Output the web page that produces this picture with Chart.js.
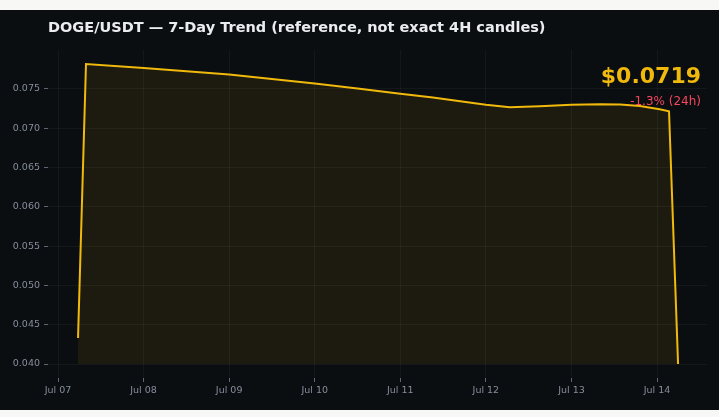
<!DOCTYPE html>
<html>
<head>
<meta charset="utf-8">
<script src="https://cdn.jsdelivr.net/npm/chart.js@4.4.1/dist/chart.umd.min.js"></script>
<style>
  html, body { margin: 0; padding: 0; background: #f7f7f5; }
  #wrap { position: absolute; left: 0; top: 10px; width: 719px; height: 400px; background: #0b0e11; }
  #chart { position: absolute; left: 0; top: 0; }
  .txt { position: absolute; font-family: 'DejaVu Sans', sans-serif; white-space: nowrap; line-height: 1; }
  #title { left: 48px; top: 10px; font-size: 14.5px; font-weight: bold; color: #eaecef; }
  #price { right: 18px; top: 55px; font-size: 22px; font-weight: bold; color: #f0b90b; }
  #change { right: 18px; top: 85px; font-size: 12px; color: #f6465d; }
</style>
</head>
<body>
<div id="wrap">
  <canvas id="chart" width="719" height="400"></canvas>
  <div class="txt" id="title">DOGE/USDT — 7-Day Trend (reference, not exact 4H candles)</div>
  <div class="txt" id="price">$0.0719</div>
  <div class="txt" id="change">-1.3% (24h)</div>
</div>
<script>
// days since Jul 07 00:00
const dayOffsets = [0.234, 0.327, 1.0, 1.5, 2.0, 2.5, 3.0, 3.5, 4.0, 4.38, 4.7, 5.0, 5.28, 5.63, 6.0, 6.33, 6.57, 6.8, 7.03, 7.14, 7.246];
const prices     = [0.04331, 0.07818, 0.07767, 0.07727, 0.07683, 0.07627, 0.07570, 0.07506, 0.07440, 0.07392, 0.07344,
                    0.07299, 0.07267, 0.07280, 0.07300, 0.07307, 0.07302, 0.07284, 0.07242, 0.07216, 0.04000];

const xTickDays   = [0, 1, 2, 3, 4, 5, 6, 7];
const xTickLabels = ['Jul 07', 'Jul 08', 'Jul 09', 'Jul 10', 'Jul 11', 'Jul 12', 'Jul 13', 'Jul 14'];
const yTicks      = [0.040, 0.045, 0.050, 0.055, 0.060, 0.065, 0.070, 0.075];

Chart.defaults.font.family = "'DejaVu Sans', sans-serif";

const points = dayOffsets.map((d, i) => ({ x: d, y: prices[i] }));

const ctx = document.getElementById('chart').getContext('2d');
new Chart(ctx, {
    type: 'line',
    data: {
        datasets: [{
            data: points,
            borderColor: '#f0b90b',
            borderWidth: 2,
            backgroundColor: 'rgba(240,185,11,0.08)',
            fill: { value: 0.04 },
            pointRadius: 0,
            tension: 0
        }]
    },
    options: {
        responsive: false,
        animation: false,
        layout: { padding: { top: 40, right: 12, left: 0, bottom: 0 } },
        plugins: {
            legend: { display: false },
            tooltip: { enabled: false }
        },
        scales: {
            x: {
                type: 'linear',
                min: -0.117,
                max: 7.584,
                afterBuildTicks: scale => { scale.ticks = xTickDays.map(v => ({ value: v })); },
                afterFit: scale => { scale.height = 32; },
                ticks: {
                    color: '#848e9c',
                    font: { size: 9.5 },
                    padding: 3,
                    maxRotation: 0,
                    callback: (v) => xTickLabels[xTickDays.indexOf(v)]
                },
                grid: {
                    color: 'rgba(255,255,255,0.045)',
                    tickColor: '#5e6673',
                    tickLength: 4
                },
                border: { display: false }
            },
            y: {
                min: 0.03822,
                max: 0.07996,
                afterBuildTicks: scale => { scale.ticks = yTicks.map(v => ({ value: v })); },
                afterFit: scale => { scale.width = 48; },
                ticks: {
                    color: '#848e9c',
                    font: { size: 9.5 },
                    padding: 4,
                    callback: v => v.toFixed(3)
                },
                grid: {
                    color: 'rgba(255,255,255,0.045)',
                    tickColor: '#5e6673',
                    tickLength: 4
                },
                border: { display: false }
            }
        }
    }
});
</script>
</body>
</html>
